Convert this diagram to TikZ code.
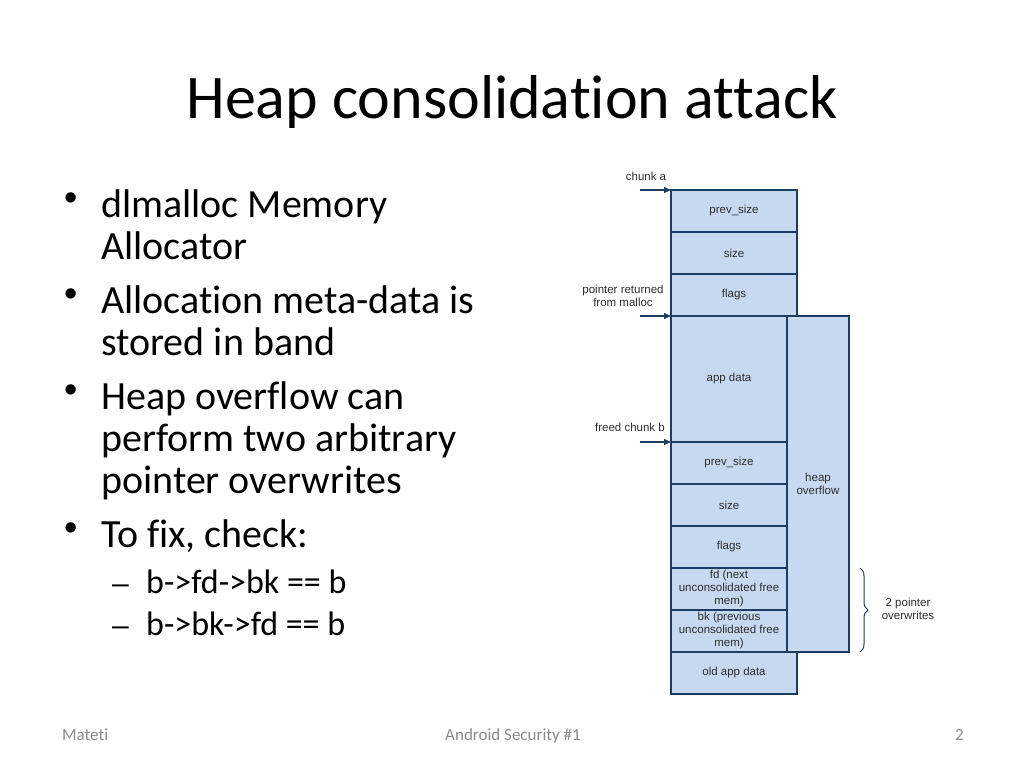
\documentclass[tikz,border=0pt]{standalone}
\usepackage{fontspec}
\setmainfont{Carlito}[Ligatures=NoCommon]
\newfontfamily\diagfont{Liberation Sans}
\usetikzlibrary{arrows.meta,positioning,decorations.pathreplacing}
\definecolor{cellfill}{RGB}{198,217,240}
\definecolor{cellline}{RGB}{31,60,100}
\definecolor{celltext}{RGB}{45,45,45}
\definecolor{footgray}{RGB}{137,137,137}
\tikzset{cell/.style={rectangle, draw=cellline, fill=cellfill, line width=1.3pt, minimum width=126pt, minimum height=42pt, inner sep=0pt, outer sep=0pt, text=celltext, align=center, font=\diagfont\fontsize{11.5}{13}\selectfont}}
\tikzset{narrow/.style={minimum width=116pt}}
\tikzset{lbl/.style={text=celltext, align=center, font=\diagfont\fontsize{11.5}{13}\selectfont}}
\tikzset{ptr/.style={draw=cellline, line width=1.3pt, -{Triangle[length=7pt,width=6pt]}}}
\tikzset{pbrace/.style={draw=cellline, line width=1pt, decorate, decoration={brace, amplitude=8pt}}}
\tikzset{bullet/.style={anchor=base west, inner sep=0pt, font=\fontsize{40}{48}\selectfont}}
\tikzset{dot/.style={anchor=base west, inner sep=0pt, yshift=6.5pt, font=\diagfont\fontsize{38}{44}\selectfont}}
\tikzset{subbullet/.style={anchor=base west, inner sep=0pt, font=\fontsize{34}{40}\selectfont}}
\tikzset{subdash/.style={anchor=base west, inner sep=0pt, font=\diagfont\fontsize{30}{36}\selectfont}}
\tikzset{footer/.style={anchor=base, inner sep=0pt, text=footgray, font=\fontsize{17}{20}\selectfont}}

\begin{document}
\begin{tikzpicture}[x=1pt, y=-1pt]
        \useasboundingbox (0,0) rectangle (1024,768);
        \node [anchor=base, font=\fontsize{62}{70}\selectfont] (title) at (512,118) {Heap consolidation attack};

        % bullet list
        \node [dot] (dot1) at (64,217) {•};
        \node [bullet] (b1a) at (101,217) {dlmalloc Memory};
        \node [bullet] (b1b) at (101,259) {Allocator};
        \node [dot] (dot2) at (64,313) {•};
        \node [bullet] (b2a) at (101,313) {Allocation meta-data is};
        \node [bullet] (b2b) at (101,355) {stored in band};
        \node [dot] (dot3) at (64,409) {•};
        \node [bullet] (b3a) at (101,409) {Heap overflow can};
        \node [bullet] (b3b) at (101,451) {perform two arbitrary};
        \node [bullet] (b3c) at (101,493) {pointer overwrites};
        \node [dot] (dot4) at (64,547) {•};
        \node [bullet] (b4a) at (101,547) {To fix, check:};
        \node [subdash] (dash1) at (112,593) {–};
        \node [subbullet] (s1) at (146,593) {b->fd->bk == b};
        \node [subdash] (dash2) at (112,635) {–};
        \node [subbullet] (s2) at (146,635) {b->bk->fd == b};

        % chunk a
        \node [cell] (preva) at (734,211) {prev\_size};
        \node [cell, below=0pt of preva] (sizea) {size};
        \node [cell, below=0pt of sizea] (flagsa) {flags};
        \node [cell, narrow, minimum height=126pt, anchor=north west] (appdata) at (flagsa.south west) {app data};

        % chunk b
        \node [cell, narrow, anchor=north west] (prevb) at (appdata.south west) {prev\_size};
        \node [cell, narrow, below=0pt of prevb] (sizeb) {size};
        \node [cell, narrow, below=0pt of sizeb] (flagsb) {flags};
        \node [cell, narrow, below=0pt of flagsb] (fdb) {fd (next\\unconsolidated free\\mem)};
        \node [cell, narrow, below=0pt of fdb] (bkb) {bk (previous\\unconsolidated free\\mem)};
        \node [cell, anchor=north west] (oldapp) at (bkb.south west) {old app data};
        \node [cell, minimum width=62pt, minimum height=336pt, anchor=north west] (overflow) at (appdata.north east) {heap\\overflow};

        % pointers
        \coordinate (chunka) at (640,190);
        \coordinate (retptr) at (640,316);
        \coordinate (freedb) at (640,442);
        \node [lbl] (chunkalbl) at (646,176) {chunk a};
        \node [lbl] (retlbl) at (623,296) {pointer returned\\from malloc};
        \node [lbl] (freedlbl) at (630,427) {freed chunk b};
        \path [ptr] (chunka) -- (preva.north west);
        \path [ptr] (retptr) -- (flagsa.south west);
        \path [ptr] (freedb) -- (prevb.north west);

        % overwrites
        \coordinate (btop) at (860,568);
        \coordinate (bbot) at (860,652);
        \path [pbrace] (btop) -- (bbot);
        \node [lbl] (twoptr) at (908,609) {2 pointer\\overwrites};

        % footer
        \node [footer, anchor=base west] (author) at (62,740) {Mateti};
        \node [footer] (course) at (513,740) {Android Security \#1};
        \node [footer, anchor=base east] (page) at (964,740) {2};
      \end{tikzpicture}
\end{document}
